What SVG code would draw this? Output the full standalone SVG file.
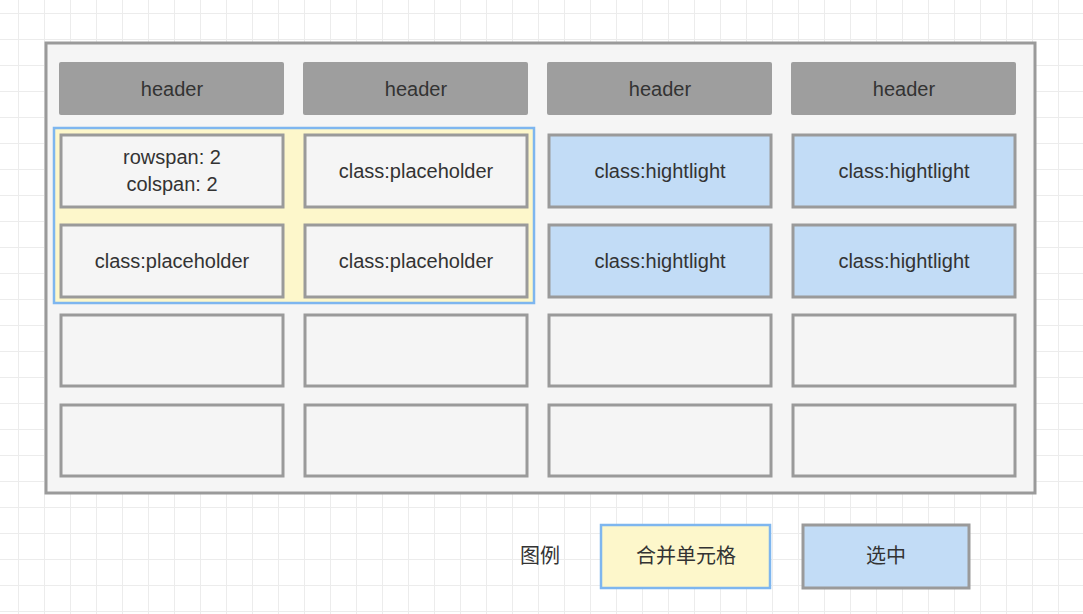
<svg xmlns="http://www.w3.org/2000/svg" width="1083" height="614" viewBox="0 0 1083 614">
<defs>
<pattern id="g" x="18" y="13" width="26" height="26" patternUnits="userSpaceOnUse"><path d="M0 0H26M0 0V26" fill="none" stroke="#ececec" stroke-width="2"/></pattern>
<style>
.c{fill:#f5f5f5;stroke:#9a9a9a;stroke-width:3}
.h{fill:#9e9e9e}
.hl{fill:#c2dcf6;stroke:#9a9a9a;stroke-width:3}
.y{fill:#fdf7cb;stroke:#7eb6ef;stroke-width:2.5}
text{font-family:"Liberation Sans","Noto Sans CJK SC",sans-serif;font-size:20px;fill:#333;text-anchor:middle;dominant-baseline:central}
</style>
</defs>
<rect width="1083" height="614" fill="#fff"/>
<rect width="1083" height="614" fill="url(#g)"/>
<g id="table"><rect x="46" y="43" width="989" height="450" class="c"/></g>
<g id="headers">
<rect x="59" y="62" width="225" height="53" rx="2" class="h"/><text x="172" y="89">header</text>
<rect x="303" y="62" width="225" height="53" rx="2" class="h"/><text x="416" y="89">header</text>
<rect x="547" y="62" width="225" height="53" rx="2" class="h"/><text x="660" y="89">header</text>
<rect x="791" y="62" width="225" height="53" rx="2" class="h"/><text x="904" y="89">header</text>
</g>
<g id="merged"><rect x="54" y="128" width="480" height="175" class="y"/></g>
<g id="row1">
<rect x="61" y="135" width="222" height="72" class="c"/><text x="172" y="157">rowspan: 2</text><text x="172" y="184">colspan: 2</text>
<rect x="305" y="135" width="222" height="72" class="c"/><text x="416" y="171">class:placeholder</text>
<rect x="549" y="135" width="222" height="72" class="hl"/><text x="660" y="171">class:hightlight</text>
<rect x="793" y="135" width="222" height="72" class="hl"/><text x="904" y="171">class:hightlight</text>
</g>
<g id="row2">
<rect x="61" y="225" width="222" height="72" class="c"/><text x="172" y="261">class:placeholder</text>
<rect x="305" y="225" width="222" height="72" class="c"/><text x="416" y="261">class:placeholder</text>
<rect x="549" y="225" width="222" height="72" class="hl"/><text x="660" y="261">class:hightlight</text>
<rect x="793" y="225" width="222" height="72" class="hl"/><text x="904" y="261">class:hightlight</text>
</g>
<g id="row3">
<rect x="61" y="315" width="222" height="71" class="c"/>
<rect x="305" y="315" width="222" height="71" class="c"/>
<rect x="549" y="315" width="222" height="71" class="c"/>
<rect x="793" y="315" width="222" height="71" class="c"/>
</g>
<g id="row4">
<rect x="61" y="405" width="222" height="71" class="c"/>
<rect x="305" y="405" width="222" height="71" class="c"/>
<rect x="549" y="405" width="222" height="71" class="c"/>
<rect x="793" y="405" width="222" height="71" class="c"/>
</g>
<g id="legend">
<text x="540" y="556">图例</text>
<rect x="601" y="525" width="169" height="63" class="y"/><text x="686" y="556">合并单元格</text>
<rect x="803" y="525" width="166" height="63" class="hl"/><text x="886" y="556">选中</text>
</g>
<g id="connectors"/>
</svg>
